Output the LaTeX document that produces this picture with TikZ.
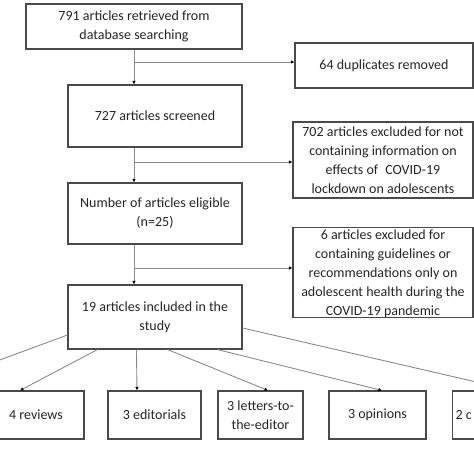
\documentclass[tikz,border=0pt]{standalone}
\usepackage{fontspec}
\setmainfont{Carlito}
\usetikzlibrary{arrows.meta}
\definecolor{boxline}{HTML}{4A4A4A}
\definecolor{conn}{HTML}{8C8C8C}
\definecolor{txt}{HTML}{262626}
\begin{document}
\begin{tikzpicture}[x=1pt,y=-1pt,
  box/.style={draw=boxline,line width=1.1pt,fill=white,text=txt,align=center,
    inner sep=0pt,font=\fontsize{14}{19}\selectfont},
  conline/.style={draw=conn,line width=0.9pt},
  arr/.style={conline,-{Latex[length=3.5pt,width=3.5pt,black]}}]
\useasboundingbox (0,0) rectangle (474,474);
\clip (0,0) rectangle (474,474);
\fill[white] (0,0) rectangle (474,474);
% main column
\node[box,minimum width=216pt,minimum height=45pt] (b1) at (134,26.5) {791 articles retrieved from\\database searching};
\node[box,minimum width=174pt,minimum height=62pt] (b2) at (155,116) {727 articles screened};
\node[box,minimum width=174pt,minimum height=61pt] (b3) at (155,213.5) {Number of articles eligible\\(n=25)};
\node[box,minimum width=174pt,minimum height=64pt] (b4) at (155,317) {19 articles included in the\\study};
% exclusion boxes
\node[box,minimum width=178pt,minimum height=45pt] (d1) at (384,65.5) {64 duplicates removed};
\node[box,minimum width=180pt,minimum height=76pt] (d2) at (383,160) {702 articles excluded for not\\containing information on\\effects of\enspace COVID-19\\lockdown on adolescents};
\node[box,minimum width=180pt,minimum height=90pt,anchor=north] (d3) at (383,227) {};
\node[text=txt,align=center,anchor=north,inner sep=0pt,font=\fontsize{14}{19}\selectfont] (d3t) at (383,230) {6 articles excluded for\\containing guidelines or\\recommendations only on\\adolescent health during the\\COVID-19 pandemic};
% bottom boxes
\node[box,minimum width=120pt,minimum height=48pt] (t0) at (-130,415) {};
\node[box,minimum width=96pt,minimum height=48pt] (t1) at (36,415) {4 reviews};
\node[box,minimum width=93pt,minimum height=48pt] (t2) at (154.5,415) {3 editorials};
\node[box,minimum width=85pt,minimum height=48pt] (t3) at (260.5,415) {3 letters-to-\\the-editor};
\node[box,minimum width=97pt,minimum height=48pt] (t4) at (377.5,415) {3 opinions};
\node[box,minimum width=93pt,minimum height=48pt,anchor=west] (t5) at (452,415) {};
\node[text=txt,inner sep=0pt,anchor=west,font=\fontsize{14}{19}\selectfont] (t5t) at (455.5,415) {2 c};
% main vertical flow
\coordinate (j1) at (134,62);
\coordinate (j2) at (134,162);
\coordinate (j3) at (134,268);
\draw[arr] (b1.south) -- (b2.north -| b1.south);
\draw[arr] (b2.south -| b1.south) -- (b3.north -| b1.south);
\draw[arr] (b3.south -| b1.south) -- (b4.north -| b1.south);
\draw[arr] (j1) -- (j1 -| d1.west);
\draw[arr] (j2) -- (j2 -| d2.west);
\draw[arr] (j3) -- (j3 -| d3.west);
% branches to article types
\draw[arr] ([yshift=-18pt]b4.west) -- ([xshift=47pt]t0.north);
\draw[arr] ([xshift=30pt]b4.south west) -- ([xshift=-16pt]t1.north);
\draw[arr] ([xshift=69pt]b4.south west) -- ([xshift=-17.5pt]t2.north);
\draw[arr] ([xshift=100pt]b4.south west) -- ([xshift=7.5pt]t3.north);
\draw[arr] ([xshift=150pt]b4.south west) -- ([xshift=4.5pt]t4.north);
\draw[arr] ([yshift=-11pt]b4.east) -- ([xshift=61pt]t5.north west);
\end{tikzpicture}
\end{document}
